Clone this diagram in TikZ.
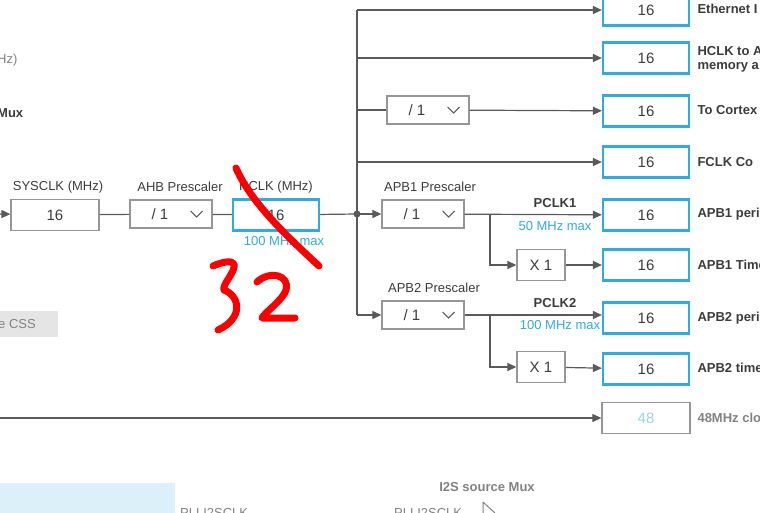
\documentclass[tikz,border=0pt]{standalone}
\usepackage{fontspec}
\setmainfont{Liberation Sans}
\usetikzlibrary{arrows.meta,calc}
\definecolor{ln}{RGB}{90,90,90}
\definecolor{bx}{RGB}{150,150,150}
\definecolor{bl}{RGB}{52,170,220}
\definecolor{tx}{RGB}{60,60,60}
\definecolor{gt}{RGB}{130,130,130}
\tikzset{
 w/.style={line width=1.2pt,ln},
 a/.style={w,-{Triangle[length=9pt,width=8pt]}},
 gbox/.style={draw=bx,line width=1.3pt,minimum width=88pt,minimum height=31pt,font=\fontsize{15}{15}\selectfont,text=tx,inner sep=0},
 obox/.style={draw=bl,line width=2.2pt,minimum width=86pt,minimum height=31pt,font=\fontsize{15}{15}\selectfont,text=tx,inner sep=0},
 pbox/.style={draw=bx,line width=1.3pt,minimum width=82pt,minimum height=28pt,font=\fontsize{15}{15}\selectfont,text=tx,inner sep=0},
 xbox/.style={draw=bx,line width=1.3pt,minimum width=48pt,minimum height=31pt,font=\fontsize{15}{15}\selectfont,text=tx,inner sep=0},
 lab/.style={font=\fontsize{13}{13}\selectfont,text=tx},
 rl/.style={font=\bfseries\fontsize{13}{14}\selectfont,text=tx,anchor=west,align=left},
 bt/.style={font=\fontsize{13}{13}\selectfont,text=bl},
 red/.style={draw={rgb,255:red,250;green,0;blue,0},line width=7pt,line cap=round,line join=round},
}
\newcommand{\chev}[1]{\draw[ln,line width=1pt] ($(#1.east)+(-22pt,3pt)$) -- ++(6pt,-6pt) -- ++(6pt,6pt);}
\begin{document}
\begin{tikzpicture}[x=1pt,y=-1pt]
\useasboundingbox (0,0) rectangle (760,513);
\fill[white] (0,0) rectangle (760,513);
% left
\node[lab,text=gt,anchor=west,inner sep=0] (hz) at (-3,60) {Hz)};
\node[lab,font=\bfseries\fontsize{13}{13}\selectfont,anchor=west,inner sep=0] (mux) at (-3,113) {Mux};
\fill[gray!20] (0,311) rectangle (58,337);
\node[lab,text=gt,anchor=west,inner sep=0] (css) at (-2,324) {e CSS};
% main chain
\coordinate (l0) at (0,214);
\node[gbox] (sys) at (55,215) {16};
\node[lab] (syslab) at (58,187) {SYSCLK (MHz)};
\node[pbox] (ahb) at (171,214) {\hspace*{-22pt}/ 1};
\chev{ahb}
\node[lab] (ahblab) at (180,187) {AHB Prescaler};
\node[obox] (hclk) at (276,215) {16};
\node[lab] (hclklab) at (276,187) {HCLK (MHz)};
\node[bt] (hclkmax) at (284,241) {100 MHz max};
\draw[a] (l0) -- (sys);
\draw[w] (sys) -- (ahb); \draw[w] (ahb) -- (hclk);
\coordinate (j) at (357,214);
\draw[w] (hclk) -- (j);
\fill[ln] (j) circle (3.5pt);
\draw[w] (357,10) -- (357,315);
% outputs
\foreach \n/\y in {o1/10,o2/58,o3/111,o4/162,o5/215,o6/265,o7/318,o8/369}{\node[obox] (\n) at (646,\y) {16};}
\node[gbox,text=bl!50] (o9) at (646,418) {48};
\node[rl] at (694,9) {Ethernet I};
\node[rl] at (694,59) {HCLK to A\\memory a};
\node[rl] at (694,110) {To Cortex};
\node[rl] at (694,162) {FCLK Co};
\node[rl] at (694,214) {APB1 peri};
\node[rl] at (694,265) {APB1 Time};
\node[rl] at (694,318) {APB2 peri};
\node[rl] at (694,368) {APB2 time};
\node[rl,text=gt] at (694,418) {48MHz clo};
\draw[a] (357,10) -- (o1.west|-0,10);
\draw[a] (357,58) -- (o2.west|-0,58);
\node[pbox] (c1) at (428,110) {\hspace*{-22pt}/ 1}; \chev{c1}
\draw[w] (357,110) -- (c1); \draw[a] (c1) -- (o3);
\draw[a] (357,162) -- (o4.west|-0,162);
% APB1
\node[pbox] (p1) at (423,214) {\hspace*{-22pt}/ 1}; \chev{p1}
\node[lab] at (430,187) {APB1 Prescaler};
\draw[a] (j) -- (p1);
\draw[a] (p1) -- (o5);
\node[lab,font=\bfseries\fontsize{13}{13}\selectfont] at (555,203) {PCLK1};
\node[bt] at (555,226) {50 MHz max};
\node[xbox] (x1) at (541,265) {X 1};
\draw[a] (490,214) |- (x1);
\draw[a] (x1) -- (o6);
% APB2
\node[pbox] (p2) at (423,315) {\hspace*{-22pt}/ 1}; \chev{p2}
\node[lab] at (434,288) {APB2 Prescaler};
\draw[a] (357,315) -- (p2);
\draw[a] (p2) -- (o7.west|-p2);
\node[lab,font=\bfseries\fontsize{13}{13}\selectfont] at (555,303) {PCLK2};
\node[bt] at (560,325) {100 MHz max};
\node[xbox] (x2) at (541,367) {X 1};
\draw[a] (490,315) |- (x2);
\draw[a] (x2) -- (o8);
% 48
\draw[a] (0,418) -- (o9);
% bottom
\fill[bl!18] (0,483) rectangle (175,513);
\node[lab,text=gt,anchor=west,inner sep=0] at (180,513) {PLLI2SCLK};
\node[lab,text=gt,anchor=west,inner sep=0] at (394,513) {PLLI2SCLK};
\node[lab,font=\bfseries\fontsize{13}{13}\selectfont,text=gt] at (487,487) {I2S source Mux};
\draw[gt,line width=1pt] (483,502) -- (483,513) (483,502) -- (495,513);
% red annotation
\draw[red] (236,168) .. controls (250,200) and (280,230) .. (319,266);
\draw[red] (213,266) .. controls (222,262) and (232,260) .. (234,264) .. controls (236,272) and (222,284) .. (224,290) .. controls (240,296) and (244,318) .. (218,330);
\draw[red] (257,282) .. controls (270,270) and (290,275) .. (286,290) .. controls (283,300) and (265,312) .. (262,318) -- (295,318);
\end{tikzpicture}
\end{document}
